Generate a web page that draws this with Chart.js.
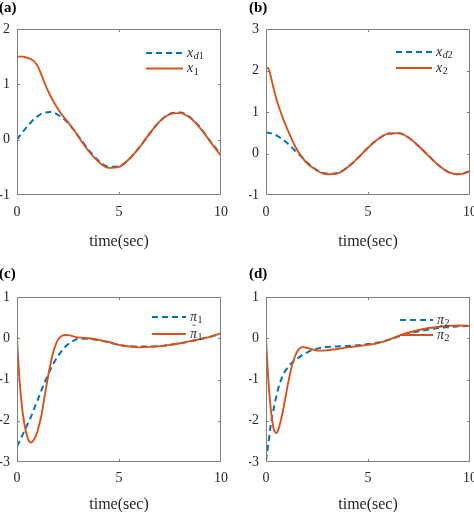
<!DOCTYPE html>
<html>
<head>
<meta charset="utf-8">
<title>Tracking and estimation responses</title>
<script src="https://cdn.jsdelivr.net/npm/chart.js@4.4.1/dist/chart.umd.min.js"></script>
<style>
  html, body { margin: 0; padding: 0; background: #fff; }
  #fig { position: relative; width: 474px; height: 512px; overflow: hidden; }
  #fig canvas { position: absolute; }
</style>
</head>
<body>
<div id="fig"></div>
<script>
// time samples (sec), denser where the responses move fast
const T = [0, 0.1, 0.2, 0.3, 0.4, 0.5, 0.6, 0.7, 0.8, 0.9, 1.0,
  1.2, 1.4, 1.6, 1.8, 2.0, 2.2, 2.4, 2.6, 2.8, 3.0,
  3.5, 4, 4.5, 5, 5.5, 6, 6.5, 7, 7.5, 8, 8.5, 9, 9.5, 10];

// (a) x_d1 / x_1
const XD1 = [0, 0.05, 0.10, 0.15, 0.19, 0.24, 0.28, 0.32, 0.36, 0.39, 0.42,
  0.47, 0.49, 0.50, 0.49, 0.45, 0.40, 0.34, 0.26, 0.17, 0.07,
  -0.18, -0.38, -0.49, -0.48, -0.35, -0.14, 0.11, 0.33, 0.47, 0.49, 0.40, 0.21, -0.04, -0.27];
const X1 = [1.50, 1.50, 1.50, 1.50, 1.49, 1.48, 1.47, 1.45, 1.43, 1.39, 1.34,
  1.17, 0.98, 0.82, 0.68, 0.56, 0.45, 0.36, 0.27, 0.17, 0.06,
  -0.20, -0.40, -0.51, -0.49, -0.35, -0.14, 0.11, 0.33, 0.46, 0.48, 0.39, 0.20, -0.05, -0.29];

// (b) x_d2 / x_2
const XD2 = [0.50, 0.50, 0.49, 0.48, 0.46, 0.44, 0.41, 0.38, 0.35, 0.31, 0.27,
  0.18, 0.08, -0.01, -0.11, -0.21, -0.29, -0.37, -0.43, -0.47, -0.49,
  -0.47, -0.33, -0.11, 0.14, 0.35, 0.48, 0.49, 0.38, 0.17, -0.07, -0.30, -0.46, -0.50, -0.42];
const X2 = [2.05, 2.06, 1.92, 1.72, 1.52, 1.33, 1.17, 1.03, 0.89, 0.76, 0.64,
  0.41, 0.20, 0.03, -0.11, -0.23, -0.31, -0.38, -0.44, -0.48, -0.50,
  -0.48, -0.33, -0.11, 0.14, 0.35, 0.48, 0.49, 0.38, 0.17, -0.07, -0.30, -0.46, -0.50, -0.42];

// (c) pi_1 / pi_1 hat
const PI1 = [-2.62, -2.52, -2.42, -2.31, -2.20, -2.10, -2.00, -1.89, -1.76, -1.63, -1.51,
  -1.26, -1.02, -0.80, -0.60, -0.44, -0.30, -0.19, -0.11, -0.05, -0.01,
  -0.01, -0.05, -0.10, -0.16, -0.19, -0.20, -0.20, -0.19, -0.16, -0.12, -0.07, -0.02, 0.04, 0.12];
const PI1_HAT = [0, -0.85, -1.45, -1.88, -2.17, -2.38, -2.50, -2.53, -2.48, -2.39, -2.26,
  -1.86, -1.27, -0.72, -0.30, -0.04, 0.06, 0.08, 0.07, 0.04, 0.02,
  0.00, -0.04, -0.09, -0.16, -0.20, -0.22, -0.21, -0.19, -0.16, -0.12, -0.07, -0.02, 0.04, 0.12];

// (d) pi_2 / pi_2 hat
const PI2 = [-2.97, -2.62, -2.22, -1.90, -1.65, -1.42, -1.22, -1.06, -0.93, -0.83, -0.75,
  -0.63, -0.54, -0.47, -0.40, -0.35, -0.30, -0.27, -0.24, -0.22, -0.21,
  -0.20, -0.19, -0.17, -0.14, -0.10, -0.04, 0.04, 0.11, 0.17, 0.21, 0.25, 0.27, 0.29, 0.30];
const PI2_HAT = [0, -0.90, -1.55, -1.98, -2.24, -2.30, -2.22, -2.05, -1.83, -1.58, -1.31,
  -0.81, -0.46, -0.27, -0.21, -0.23, -0.26, -0.29, -0.30, -0.30, -0.29,
  -0.26, -0.22, -0.19, -0.16, -0.12, -0.04, 0.06, 0.14, 0.20, 0.25, 0.28, 0.30, 0.31, 0.30];

// tick labels
const X_TICKS = [0, 5, 10];
const Y_TICKS_A = [-1, 0, 1, 2];
const Y_TICKS_B = [-1, 0, 1, 2, 3];
const Y_TICKS_CD = [-3, -2, -1, 0, 1];

const FONT = '"Liberation Serif", "Times New Roman", serif';
const TEXT = '#262626';
const AXIS = '#808080';
const BLUE = '#0072BD';
const RED = '#D95319';
const YW = 17;       // y-axis box width
const TICK = 3;      // inward tick length

const PANELS = [
  { tag: '(a)', box: [0, 0, 237, 256], area: [17, 29, 221, 195], yTicks: Y_TICKS_A, titlePad: 6.5, xPad: 9,
    series: [{ sym: ['x', 'd1'], data: XD1, dash: true }, { sym: ['x', '1'], data: X1 }],
    legend: { x: 146, y: 53, dy: 15.5, len: 37 }, tagPos: [-1, 8] },
  { tag: '(b)', box: [237, 0, 237, 256], area: [266, 29, 470, 195], yTicks: Y_TICKS_B, titlePad: 6.5, xPad: 9,
    series: [{ sym: ['x', 'd2'], data: XD2, dash: true }, { sym: ['x', '2'], data: X2 }],
    legend: { x: 396, y: 52, dy: 16, len: 36 }, tagPos: [249, 8] },
  { tag: '(c)', box: [0, 256, 237, 256], area: [17, 297, 221, 462], yTicks: Y_TICKS_CD, titlePad: -0.5, xPad: 7.5,
    series: [{ sym: ['\u03C0', '1'], data: PI1, dash: true }, { sym: ['\u03C0', '1'], hat: true, data: PI1_HAT }],
    legend: { x: 152, y: 317, dy: 17, len: 34 }, tagPos: [-1, 274] },
  { tag: '(d)', box: [237, 256, 237, 256], area: [266, 297, 470, 462], yTicks: Y_TICKS_CD, titlePad: -0.5, xPad: 7.5,
    series: [{ sym: ['\u03C0', '2'], data: PI2, dash: true }, { sym: ['\u03C0', '2'], hat: true, data: PI2_HAT }],
    legend: { x: 400, y: 320, dy: 15, len: 33 }, tagPos: [249, 274] },
];

// MATLAB-like box, inward ticks, legend without frame and the panel tag
const deco = {
  id: 'deco',
  afterDatasetsDraw(chart, args, o) {
    const { ctx, chartArea: a, scales: { x, y } } = chart;
    ctx.save();
    ctx.strokeStyle = AXIS;
    ctx.lineWidth = 1;
    ctx.strokeRect(a.left + 0.5, a.top + 0.5, a.right - a.left - 1, a.bottom - a.top - 1);
    ctx.beginPath();
    x.ticks.forEach((t) => {
      const px = Math.round(x.getPixelForValue(t.value)) + 0.5;
      if (px < a.left + 2 || px > a.right - 2) return;
      ctx.moveTo(px, a.bottom); ctx.lineTo(px, a.bottom - TICK);
      ctx.moveTo(px, a.top); ctx.lineTo(px, a.top + TICK);
    });
    y.ticks.forEach((t) => {
      const py = Math.round(y.getPixelForValue(t.value)) + 0.5;
      if (py < a.top + 2 || py > a.bottom - 2) return;
      ctx.moveTo(a.left, py); ctx.lineTo(a.left + TICK, py);
      ctx.moveTo(a.right, py); ctx.lineTo(a.right - TICK, py);
    });
    ctx.stroke();
    ctx.restore();
  },
  afterDraw(chart, args, o) {
    const ctx = chart.ctx;
    ctx.save();
    // legend
    chart.data.datasets.forEach((ds, i) => {
      const yy = o.legend.y + i * o.legend.dy;
      ctx.strokeStyle = ds.borderColor;
      ctx.lineWidth = ds.borderWidth;
      ctx.setLineDash(ds.borderDash || []);
      ctx.beginPath();
      ctx.moveTo(o.legend.x, yy);
      ctx.lineTo(o.legend.x + o.legend.len, yy);
      ctx.stroke();
      ctx.setLineDash([]);
      const [base, sub] = ds.sym;
      let tx = o.legend.x + o.legend.len + 4;
      ctx.fillStyle = TEXT;
      ctx.textBaseline = 'middle';
      ctx.textAlign = 'left';
      ctx.font = 'italic 14px ' + FONT;
      ctx.fillText(base, tx, yy);
      const bw = ctx.measureText(base).width;
      if (ds.hat) {
        ctx.font = '11px ' + FONT;
        ctx.textAlign = 'center';
        ctx.fillText('\u02C6', tx + bw / 2 + 0.5, yy - 5);
        ctx.textAlign = 'left';
      }
      tx += bw + 0.5;
      for (const ch of sub) {
        ctx.font = (/[0-9]/.test(ch) ? '' : 'italic ') + '10px ' + FONT;
        ctx.fillText(ch, tx, yy + 3.5);
        tx += ctx.measureText(ch).width;
      }
    });
    // panel tag
    ctx.font = 'bold 15px ' + FONT;
    ctx.fillStyle = '#000';
    ctx.textBaseline = 'middle';
    ctx.fillText(o.tag, o.tagPos[0], o.tagPos[1]);
    ctx.restore();
  },
};

const fig = document.getElementById('fig');

function build(p) {
  const [cl, ct, cw, ch] = p.box;
  const [al, at, ar, ab] = p.area;
  const cv = document.createElement('canvas');
  cv.width = cw;
  cv.height = ch;
  cv.style.left = cl + 'px';
  cv.style.top = ct + 'px';
  cv.style.width = cw + 'px';
  cv.style.height = ch + 'px';
  fig.appendChild(cv);

  const datasets = p.series.map((s) => ({
    label: s.sym.join(''),
    sym: s.sym,
    hat: !!s.hat,
    data: T.map((t, k) => ({ x: t, y: s.data[k] })),
    borderColor: s.dash ? BLUE : RED,
    borderWidth: s.dash ? 2 : 1.9,
    borderDash: s.dash ? [6, 4] : [],
    pointRadius: 0,
    fill: false,
    cubicInterpolationMode: 'monotone',
    order: s.dash ? 2 : 1,
  }));

  const tickFont = { family: FONT, size: 14 };
  const noGrid = { display: false, drawTicks: false, tickLength: 0 };
  new Chart(cv, {
    type: 'line',
    data: { datasets },
    options: {
      responsive: false,
      animation: false,
      events: [],
      layout: { padding: { left: al - cl - YW, top: at - ct, right: cl + cw - ar, bottom: 0 } },
      plugins: {
        legend: { display: false },
        tooltip: { enabled: false },
        deco: {
          tag: p.tag,
          tagPos: [p.tagPos[0] - cl, p.tagPos[1] - ct],
          legend: { x: p.legend.x - cl, y: p.legend.y - ct, dy: p.legend.dy, len: p.legend.len },
        },
      },
      scales: {
        x: {
          type: 'linear', min: 0, max: 10,
          afterBuildTicks: (s) => { s.ticks = X_TICKS.map((v) => ({ value: v })); },
          ticks: { font: tickFont, color: TEXT, padding: p.xPad, maxRotation: 0, autoSkip: false },
          grid: noGrid,
          border: { display: false },
          title: {
            display: true, text: 'time(sec)', color: TEXT,
            font: { family: FONT, size: 16, lineHeight: 1 },
            padding: { top: 0, bottom: p.titlePad },
          },
          afterFit: (s) => { s.height = ct + ch - ab; s.paddingLeft = 0; s.paddingRight = 0; },
        },
        y: {
          type: 'linear', min: p.yTicks[0], max: p.yTicks[p.yTicks.length - 1],
          afterBuildTicks: (s) => { s.ticks = p.yTicks.map((v) => ({ value: v })); },
          ticks: { font: tickFont, color: TEXT, padding: 7 },
          grid: noGrid,
          border: { display: false },
          afterFit: (s) => { s.width = YW; s.paddingTop = 0; s.paddingBottom = 0; },
        },
      },
    },
    plugins: [deco],
  });
}

PANELS.forEach(build);
</script>
</body>
</html>
